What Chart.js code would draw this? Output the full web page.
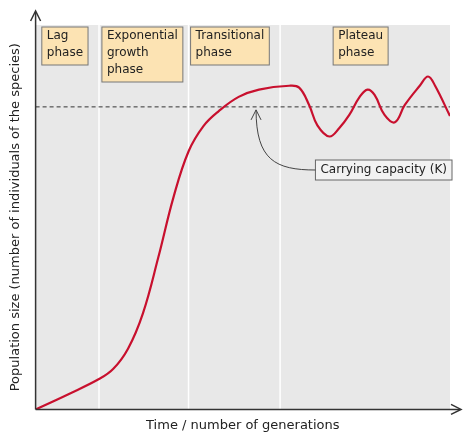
<!DOCTYPE html>
<html><head><meta charset="utf-8">
<script src="https://cdn.jsdelivr.net/npm/chart.js@4"></script>
<style>html,body{margin:0;padding:0;background:#fff}#w{width:474px;height:435px}</style>
</head><body><div id="w"><canvas id="c"></canvas></div>
<script>
const timeX = [0,7.8,15.3,18.7,22.3,25.9,29.6,33.3,36.9,40.5,44.2,49,53.9,61.2,63.6,66,68,70.9,73.3,75.7,78.2,80.1,81.8,84.2,86.7,89.1,92.7,94.7,96.4,100];
const popY = [0,3.9,7.9,10.5,15.8,25,39.5,55.3,67.1,73.7,77.6,81.3,83.2,84.2,83.7,79.2,73.9,71,73.2,76.6,81.3,83.2,81.8,76.6,74.7,79.2,84.2,86.6,84.2,76.3];
const carryingK = 78.7;
const phaseBounds = [15.3, 36.9, 59];
const phaseLabels = [
  {x:1.5, lines:["Lag","phase"]},
  {x:16, lines:["Exponential","growth","phase"]},
  {x:37.4, lines:["Transitional","phase"]},
  {x:71.8, lines:["Plateau","phase"]}
];
const calloutText = "Carrying capacity (K)";
const FONT = '"DejaVu Sans", sans-serif';

const deco = {
  id:'deco',
  beforeDatasetsDraw(ch){
    const {ctx, chartArea:a, scales:{x,y}} = ch;
    ctx.save();
    ctx.fillStyle = '#e8e8e8';
    ctx.fillRect(a.left, a.top, a.right-a.left, a.bottom-a.top);
    ctx.strokeStyle = '#fff'; ctx.lineWidth = 1.5;
    phaseBounds.forEach(v=>{const px=x.getPixelForValue(v);ctx.beginPath();ctx.moveTo(px,a.top);ctx.lineTo(px,a.bottom);ctx.stroke();});
    const ky = y.getPixelForValue(carryingK);
    ctx.strokeStyle='#333'; ctx.lineWidth=1; ctx.setLineDash([4,3]);
    ctx.beginPath(); ctx.moveTo(a.left,ky); ctx.lineTo(a.right,ky); ctx.stroke();
    ctx.setLineDash([]);
    ctx.restore();
  },
  afterDatasetsDraw(ch){
    const {ctx, chartArea:a, scales:{x,y}} = ch;
    ctx.save();
    ctx.strokeStyle='#333'; ctx.lineWidth=1.5;
    ctx.beginPath(); ctx.moveTo(a.left,a.bottom); ctx.lineTo(a.left,a.top-13); ctx.stroke();
    ctx.beginPath(); ctx.moveTo(a.left-5,a.top-4); ctx.lineTo(a.left,a.top-14); ctx.lineTo(a.left+5,a.top-4); ctx.stroke();
    ctx.beginPath(); ctx.moveTo(a.left,a.bottom); ctx.lineTo(a.right+10,a.bottom); ctx.stroke();
    ctx.beginPath(); ctx.moveTo(a.right+1,a.bottom-5); ctx.lineTo(a.right+11,a.bottom); ctx.lineTo(a.right+1,a.bottom+5); ctx.stroke();
    ctx.font = '12px '+FONT; ctx.textBaseline='top';
    phaseLabels.forEach(p=>{
      const px = x.getPixelForValue(p.x);
      const w = Math.max(...p.lines.map(l=>ctx.measureText(l).width))+10;
      const h = p.lines.length*17+4;
      ctx.fillStyle='#fce3b3'; ctx.strokeStyle='#777'; ctx.lineWidth=1;
      ctx.fillRect(px,a.top+2,w,h); ctx.strokeRect(px,a.top+2,w,h);
      ctx.fillStyle='#222';
      p.lines.forEach((l,i)=>ctx.fillText(l,px+5,a.top+5+i*17));
    });
    ctx.font='12px '+FONT;
    const bw = ctx.measureText(calloutText).width+10;
    const bx = a.right - bw + 2, by = 160;
    ctx.fillStyle='#f2f2f2'; ctx.strokeStyle='#666';
    ctx.fillRect(bx,by,bw,20); ctx.strokeRect(bx,by,bw,20);
    ctx.fillStyle='#222'; ctx.textBaseline='middle';
    ctx.fillText(calloutText,bx+5,by+10);
    const ax = x.getPixelForValue(53.2), ky=y.getPixelForValue(carryingK)+3;
    ctx.strokeStyle='#444'; ctx.lineWidth=1;
    ctx.beginPath(); ctx.moveTo(bx,by+10);
    ctx.bezierCurveTo(bx-40,by+10,ax,by,ax,ky); ctx.stroke();
    ctx.beginPath(); ctx.moveTo(ax-5,ky+10); ctx.lineTo(ax,ky); ctx.lineTo(ax+5,ky+10); ctx.stroke();
    ctx.restore();
  }
};

new Chart(document.getElementById('c'),{
  type:'line',
  data:{datasets:[{data:timeX.map((v,i)=>({x:v,y:popY[i]})),borderColor:'#c8102e',borderWidth:2.2,pointRadius:0,tension:0.4,fill:false}]},
  options:{
    responsive:true, maintainAspectRatio:false, animation:false,
    layout:{padding:{top:25,right:24,left:4,bottom:0}},
    plugins:{legend:{display:false},tooltip:{enabled:false}},
    scales:{
      x:{type:'linear',min:0,max:100,grid:{display:false},border:{display:false},ticks:{display:false},
        title:{display:true,text:'Time / number of generations',color:'#222',font:{family:FONT,size:13},padding:{top:0,bottom:2}}},
      y:{min:0,max:100,grid:{display:false},border:{display:false},ticks:{display:false},
        title:{display:true,text:'Population size (number of individuals of the species)',color:'#222',font:{family:FONT,size:13},padding:{bottom:4}}}
    }
  },
  plugins:[deco]
});
</script></body></html>
